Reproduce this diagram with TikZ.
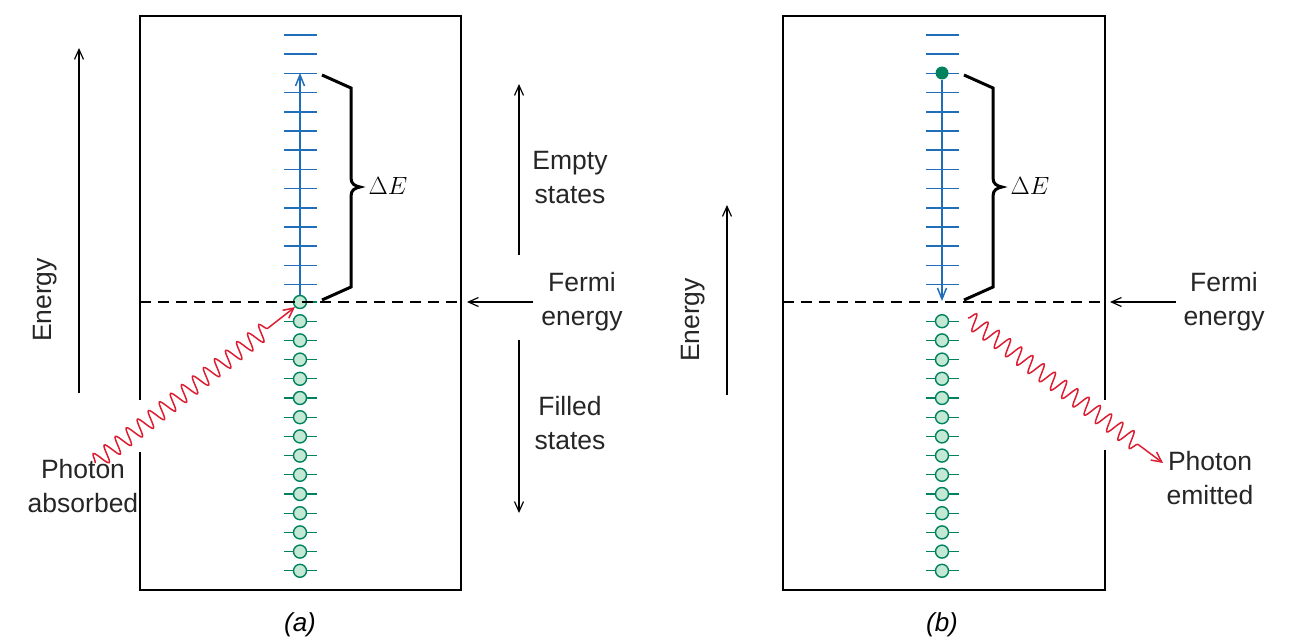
\documentclass[tikz,border=0pt]{standalone}
\usepackage{fontspec}
\setmainfont{Liberation Sans}
\usetikzlibrary{decorations.pathmorphing,arrows.meta}
\definecolor{lblue}{RGB}{30,110,185}
\definecolor{lgreen}{RGB}{0,130,95}
\definecolor{lfill}{RGB}{195,232,212}
\definecolor{lred}{RGB}{220,30,50}
\begin{document}
\begin{tikzpicture}[x=1pt,y=-1pt,
  box/.style={line width=1.6pt},
  lvl/.style={lblue,line width=1.5pt},
  flvl/.style={lgreen,line width=1.2pt},
  circ/.style={circle,draw=lgreen,fill=lfill,line width=1.4pt,inner sep=0pt,minimum size=13pt},
  lab/.style={font=\fontsize{26.5}{34}\selectfont,align=center,text=black!85},
  arr/.style={-{Straight Barb[length=10pt,width=9pt]},line width=1.2pt},
  wave/.style={lred,line width=1.5pt,-{Straight Barb[length=10pt,width=10pt]},decorate,decoration={snake,amplitude=8.5pt,segment length=14pt,post length=32pt}},
  brc/.style={line width=3pt,line join=miter},
  dlab/.style={font=\fontsize{32}{34}\selectfont},
  fermi/.style={dashed,dash pattern=on 11pt off 7pt,line width=1.3pt}]
\useasboundingbox (0,0) rectangle (1295,644);
% ---------- panel a
\draw[box] (140,16) rectangle (461,590);
\foreach \i in {0,...,13}{\draw[lvl] (284,{35+\i*19.2}) -- (317,{35+\i*19.2});}
\foreach \i in {0,...,14}{\draw[flvl] (284,{302+\i*19.2}) -- (317,{302+\i*19.2});
  \node[circ] (ca\i) at (300,{302+\i*19.2}) {};}
\coordinate (ta) at (300,73);
\draw[lblue,line width=1.5pt,-{Straight Barb[length=11pt,width=9pt]}] (ca0) -- (ta);
\draw[fermi] (140,302) -- (461,302);
\draw[brc] (322,75) -- (351,88) -- (351,178) .. controls (351,184) and (355,186) .. (360,187)
  .. controls (355,188) and (351,190) .. (351,196) -- (351,287) -- (322,300);
\node[dlab] (dea) at (388,186) {$\Delta E$};
\draw[white,line width=8pt] (140,400) -- (140,452);
\coordinate (pa) at (95,463);
\draw[wave] (pa) -- (ca0.south west);
\node[lab] (pta) at (83,486) {Photon\\absorbed};
\coordinate (ea1) at (79,393); \coordinate (ea2) at (79,48);
\draw[arr] (ea1) -- (ea2);
\node[lab,rotate=90] (ena) at (45,300) {Energy};
\coordinate (es1) at (519,255); \coordinate (es2) at (519,84);
\draw[arr] (es1) -- (es2);
\node[lab] (est) at (570,178) {Empty\\states};
\coordinate (fs1) at (519,340); \coordinate (fs2) at (519,513);
\draw[arr] (fs1) -- (fs2);
\node[lab] (fst) at (570,423) {Filled\\states};
\node[lab] (fea) at (582,302) {Fermi\\energy};
\coordinate (fa) at (467,302); \coordinate (fa0) at (533,302);
\draw[arr] (fa0) -- (fa);
\node[font=\fontsize{26}{28}\selectfont\itshape] (la) at (300,625) {(a)};
% ---------- panel b
\draw[box] (783,16) rectangle (1105,590);
\foreach \i in {0,...,13}{\draw[lvl] (926,{35+\i*19.2}) -- (959,{35+\i*19.2});}
\foreach \i in {1,...,14}{\draw[flvl] (926,{302+\i*19.2}) -- (959,{302+\i*19.2});
  \node[circ] (cb\i) at (942,{302+\i*19.2}) {};}
\node[circle,fill=lgreen,inner sep=0pt,minimum size=13pt] (tb) at (942,73) {};
\coordinate (bb) at (942,301);
\draw[lblue,line width=1.5pt,-{Straight Barb[length=11pt,width=9pt]}] (tb) -- (bb);
\draw[fermi] (783,302) -- (1105,302);
\draw[brc] (964,75) -- (993,88) -- (993,178) .. controls (993,184) and (997,186) .. (1002,187)
  .. controls (997,188) and (993,190) .. (993,196) -- (993,287) -- (964,300);
\node[dlab] (deb) at (1030,186) {$\Delta E$};
\draw[white,line width=8pt] (1105,400) -- (1105,450);
\coordinate (pb0) at (968,318); \coordinate (pb1) at (1163,463);
\draw[wave,decoration={post length=30pt}] (pb0) -- (pb1);
\node[lab] (ptb) at (1210,478) {Photon\\emitted};
\coordinate (eb1) at (727,395); \coordinate (eb2) at (727,205);
\draw[arr] (eb1) -- (eb2);
\node[lab,rotate=90] (enb) at (693,320) {Energy};
\node[lab] (feb) at (1224,302) {Fermi\\energy};
\coordinate (fb) at (1110,302); \coordinate (fb0) at (1176,302);
\draw[arr] (fb0) -- (fb);
\node[font=\fontsize{26}{28}\selectfont\itshape] (lb) at (942,625) {(b)};
\end{tikzpicture}
\end{document}
